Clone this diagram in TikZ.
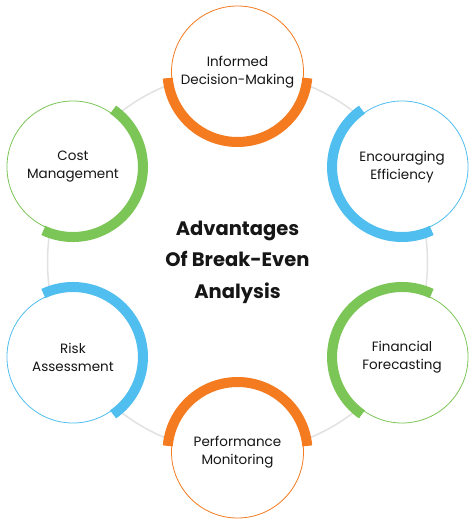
\documentclass[tikz,border=0pt]{standalone}
\usepackage{fontspec}
\setmainfont{Poppins}
\usetikzlibrary{calc}
\definecolor{cOr}{HTML}{F47B20}
\definecolor{cBl}{HTML}{50BEEF}
\definecolor{cGr}{HTML}{7CC657}
\definecolor{cTx}{HTML}{161616}
\definecolor{cRing}{HTML}{E2E2E2}
\tikzset{
  itembox/.style={circle, fill=white, line width=0.8, minimum size=132, inner sep=0pt,
    align=center, text=cTx, font=\fontsize{13.5}{18}\selectfont},
  bandarc/.style={line width=10},
  titletext/.style={align=center, text=cTx, font=\fontsize{19.5}{31.5}\selectfont\bfseries},
}
\newcommand\advitem[4]{%
  \node[itembox, draw=#3] (#1) at ($(O)+(#2:190)$) {#4};
  \draw[bandarc, draw=#3] (#1.center) ++({#2+95}:70) arc[start angle={#2+95}, delta angle=170, radius=70];
}
\begin{document}
\begin{tikzpicture}[x=1pt,y=1pt]
\useasboundingbox (0,0) rectangle (474,520);
\fill[white] (0,0) rectangle (474,520);
\coordinate (O) at (237.5,258);
\draw[cRing, line width=1.5] (O) circle[radius=190];
\advitem{top}{90}{cOr}{Informed\\Decision-Making}
\advitem{ru}{30}{cBl}{Encouraging\\Efficiency}
\advitem{rl}{-30}{cGr}{Financial\\Forecasting}
\advitem{bot}{-90}{cOr}{Performance\\Monitoring}
\advitem{ll}{210}{cBl}{Risk\\Assessment}
\advitem{lu}{150}{cGr}{Cost\\Management}
\node[titletext] (title) at (O) {Advantages\\Of Break-Even\\Analysis};
\end{tikzpicture}
\end{document}
